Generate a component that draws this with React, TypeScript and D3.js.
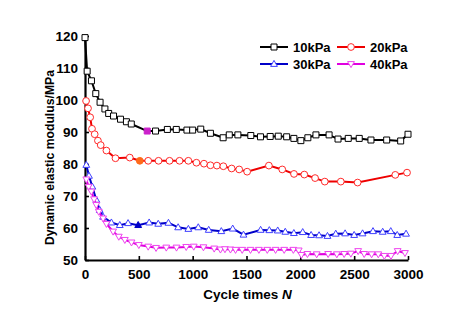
import { useEffect, useRef } from "react";
import * as d3 from "d3";

// cycle count N, dynamic elastic modulus (MPa)
const p10: [number, number][] = [
  [0, 119.5], [20, 109], [60, 106], [100, 102], [140, 99.3], [185, 97.2], [220, 95.8],
  [265, 95], [330, 94], [385, 93.2], [430, 92.5], [578, 90.3], [655, 90.3], [765, 90.8],
  [848, 90.8], [947, 90.6], [1000, 90.6], [1075, 90.9], [1165, 89.6], [1283, 88.2],
  [1340, 89.1], [1420, 89.1], [1540, 88.9], [1630, 88.5], [1720, 88.6], [1795, 88.7],
  [1873, 88.5], [1940, 88], [2005, 87.3], [2070, 88.2], [2145, 89.1], [2267, 89.1],
  [2350, 87.8], [2445, 88], [2547, 88], [2656, 87.5], [2802, 87.5], [2932, 87.2], [3000, 89.3],
];
const p20: [number, number][] = [
  [10, 99.7], [28, 97.4], [48, 94.6], [65, 91], [90, 89.3], [120, 87.3], [146, 85.9],
  [199, 84.2], [283, 81.8], [416, 82], [509, 81], [587, 81], [683, 81], [785, 81],
  [878, 81], [960, 81], [1035, 80.4], [1105, 80.1], [1165, 79.6], [1225, 79.5],
  [1285, 79.3], [1362, 78.6], [1432, 78.3], [1506, 77.6], [1708, 79.5], [1832, 78.3],
  [1941, 76.9], [2037, 76.7], [2137, 75.6], [2227, 74.5], [2376, 74.5], [2532, 74.2],
  [2882, 76.6], [2991, 77.3],
];
const p30: [number, number][] = [
  [12, 79.7], [37, 76.3], [68, 72.9], [105, 68.8], [137, 65.6], [168, 63.5], [245, 61.7],
  [323, 60.9], [400, 61.5], [494, 60.9], [596, 61.7], [680, 61.3], [775, 61.6],
  [865, 60.2], [960, 59.7], [1052, 60.2], [1149, 59.4], [1266, 59], [1372, 59.8],
  [1472, 57.9], [1631, 59.4], [1712, 59.3], [1790, 59.2], [1860, 58.8], [1940, 58.4],
  [2022, 58.7], [2100, 57.8], [2174, 57.7], [2252, 57.5], [2329, 58.2], [2416, 58.3],
  [2500, 57.8], [2578, 58.3], [2675, 59], [2765, 58.8], [2840, 59], [2900, 57.8], [2982, 58.2],
];
const p40: [number, number][] = [
  [12, 75.2], [34, 72.9], [59, 71.4], [84, 69], [105, 67.2], [128, 65.1], [168, 63],
  [199, 61.3], [261, 58.9], [314, 57.3], [370, 56.3], [432, 55.5], [500, 54.7],
  [587, 54.2], [660, 53.8], [755, 53.9], [850, 53.9], [940, 54.1], [1010, 54.2],
  [1100, 54], [1200, 53.6], [1258, 53.3], [1300, 53.4], [1351, 53.3], [1398, 53.2],
  [1460, 53.2], [1537, 53.2], [1615, 53.2], [1693, 53.2], [1770, 53.2], [1850, 53.2],
  [1935, 53.2], [1985, 53], [2010, 51.6], [2066, 51.9], [2152, 51.8], [2258, 51.9],
  [2339, 51.8], [2407, 51.9], [2469, 52], [2537, 52.8], [2593, 51.9], [2662, 51.8],
  [2724, 51.8], [2780, 51.3], [2842, 51.3], [2904, 52.8], [2972, 52.2],
];

const seriesNames = ["10kPa", "20kPa", "30kPa", "40kPa"];
const xTicks = [0, 500, 1000, 1500, 2000, 2500, 3000];
const yTicks = [50, 60, 70, 80, 90, 100, 110, 120];
// points that were drawn with a filled symbol
const filledAt = [578, 509, 494, -1];

const FONT = "'Liberation Sans', Arial, sans-serif";

export default function App() {
  const ref = useRef<SVGSVGElement | null>(null);

  useEffect(() => {
    if (!ref.current) return;
    const width = 474;
    const height = 313;
    const margin = { top: 36, right: 66, bottom: 53, left: 85 };

    const svg = d3.select(ref.current).attr("width", width).attr("height", height);
    svg.selectAll("*").remove();
    svg.append("rect").attr("width", width).attr("height", height).attr("fill", "#fff");

    const x = d3.scaleLinear().domain([0, 3000]).range([margin.left, width - margin.right]);
    const y = d3.scaleLinear().domain([50, 120]).range([height - margin.bottom, margin.top]);

    /* ---------------- AXES ---------------- */

    const gx = svg.append("g")
      .attr("transform", `translate(0,${height - margin.bottom})`)
      .call(d3.axisBottom(x).tickValues(xTicks).tickFormat(d => String(d))
        .tickSizeInner(-4).tickSizeOuter(0).tickPadding(9));
    const gy = svg.append("g")
      .attr("transform", `translate(${margin.left},0)`)
      .call(d3.axisLeft(y).tickValues(yTicks).tickFormat(d => String(d))
        .tickSizeInner(-4).tickSizeOuter(0).tickPadding(7));

    [gx, gy].forEach(g => {
      g.select(".domain").attr("stroke", "#000").attr("stroke-width", 2.2);
      g.selectAll(".tick line").attr("stroke", "#000").attr("stroke-width", 1.6);
      g.selectAll(".tick text")
        .attr("fill", "#000")
        .style("font-family", FONT)
        .style("font-weight", "bold")
        .style("font-size", "13.5px");
    });

    svg.append("text")
      .attr("transform", "translate(54,157.5) rotate(-90)")
      .attr("text-anchor", "middle")
      .attr("textLength", 175)
      .attr("lengthAdjust", "spacingAndGlyphs")
      .style("font-family", FONT)
      .style("font-weight", "bold")
      .style("font-size", "12px")
      .text("Dynamic elastic modulus/MPa");

    const xl = svg.append("text")
      .attr("x", 247.5)
      .attr("y", 299)
      .attr("text-anchor", "middle")
      .style("font-family", FONT)
      .style("font-weight", "bold")
      .style("font-size", "13.5px");
    xl.append("tspan").text("Cycle times ");
    xl.append("tspan").style("font-style", "italic").text("N");

    /* ---------------- SERIES ---------------- */

    const series = [
      { data: p10, line: "#000", stroke: "#000", fill: "#cc22cc", shape: "square" },
      { data: p20, line: "#ee0000", stroke: "#ff2a2a", fill: "#ff6a1a", shape: "circle" },
      { data: p30, line: "#0000c8", stroke: "#4040ff", fill: "#0000c8", shape: "up" },
      { data: p40, line: "#e000e0", stroke: "#ee44ee", fill: "#e000e0", shape: "down" },
    ];

    const symbolPath = (shape: string) => {
      if (shape === "square") return "M-3,-3H3V3H-3Z";
      if (shape === "up") return "M0,-3.6L3.4,2.4H-3.4Z";
      if (shape === "down") return "M0,3.6L3.4,-2.4H-3.4Z";
      return d3.symbol(d3.symbolCircle, 36)() as string;
    };

    const line = d3.line<[number, number]>().x(d => x(d[0])).y(d => y(d[1]));

    series.forEach((s, i) => {
      svg.append("path")
        .datum(s.data)
        .attr("fill", "none")
        .attr("stroke", s.line)
        .attr("stroke-width", 2)
        .attr("d", line);

      svg.append("g")
        .selectAll("path")
        .data(s.data)
        .enter()
        .append("path")
        .attr("transform", d => `translate(${x(d[0])},${y(d[1])})`)
        .attr("d", symbolPath(s.shape))
        .attr("fill", d => (d[0] === filledAt[i] ? s.fill : "#fff"))
        .attr("stroke", d => (d[0] === filledAt[i] ? s.fill : s.stroke))
        .attr("stroke-width", 1);
    });

    /* ---------------- LEGEND ---------------- */

    const legendPos = [
      { x: 260, y: 47 },
      { x: 337, y: 47 },
      { x: 260, y: 64 },
      { x: 337, y: 64 },
    ];
    series.forEach((s, i) => {
      const g = svg.append("g").attr("transform", `translate(${legendPos[i].x},${legendPos[i].y})`);
      g.append("line").attr("x1", 0).attr("x2", 28).attr("stroke", s.line).attr("stroke-width", 2);
      g.append("path")
        .attr("transform", "translate(14,0)")
        .attr("d", symbolPath(s.shape))
        .attr("fill", "#fff")
        .attr("stroke", s.stroke);
      g.append("text")
        .attr("x", 33)
        .attr("dy", "0.36em")
        .style("font-family", FONT)
        .style("font-weight", "bold")
        .style("font-size", "13px")
        .text(seriesNames[i]);
    });
  }, []);

  return <svg ref={ref} style={{ position: "absolute", left: 0, top: 0 }} />;
}
